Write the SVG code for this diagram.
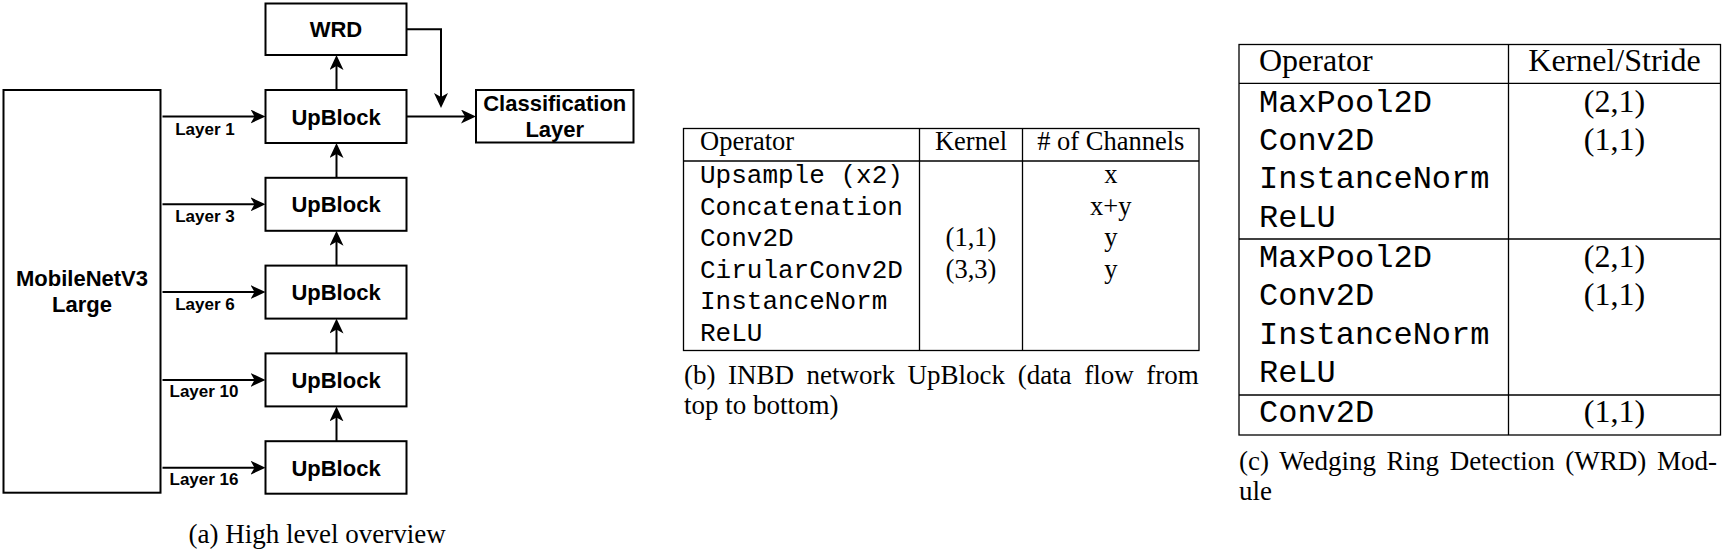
<svg xmlns="http://www.w3.org/2000/svg" width="1724" height="552" viewBox="0 0 1724 552">
<style>
.box{fill:#fff;stroke:#000;stroke-width:2}
.conn{fill:none;stroke:#000;stroke-width:2}
.nl{font-family:"Liberation Sans",Arial,sans-serif;font-weight:bold;font-size:22px;fill:#000;text-anchor:middle}
.ll{font-family:"Liberation Sans",Arial,sans-serif;font-weight:bold;font-size:17px;fill:#000;text-anchor:middle}
.tl{fill:none;stroke:#000;stroke-width:1.3}
.serb{font-family:"Liberation Serif","Times New Roman",serif;font-size:26.5px;fill:#000}
.monob{font-family:"Liberation Mono","Courier New",monospace;font-size:26px;fill:#000}
.serc{font-family:"Liberation Serif","Times New Roman",serif;font-size:32px;fill:#000}
.monoc{font-family:"Liberation Mono","Courier New",monospace;font-size:32px;fill:#000}
.cap{font-family:"Liberation Serif","Times New Roman",serif;font-size:27px;fill:#000}
.mid{text-anchor:middle}
</style>
<defs>
<marker id="arr" viewBox="0 0 15 14" refX="5" refY="7" markerWidth="15" markerHeight="14" markerUnits="userSpaceOnUse" orient="auto">
<path d="M15,7 L0,0 L4,7 L0,14 Z" fill="#000"/>
</marker>
</defs>
<rect width="1724" height="552" fill="#fff"/>

<g id="connectors">
<line class="conn" x1="162.5" y1="116.5" x2="255.5" y2="116.5" marker-end="url(#arr)"/>
<line class="conn" x1="162.5" y1="204.3" x2="255.5" y2="204.3" marker-end="url(#arr)"/>
<line class="conn" x1="162.5" y1="292.1" x2="255.5" y2="292.1" marker-end="url(#arr)"/>
<line class="conn" x1="162.5" y1="379.9" x2="255.5" y2="379.9" marker-end="url(#arr)"/>
<line class="conn" x1="162.5" y1="467.7" x2="255.5" y2="467.7" marker-end="url(#arr)"/>
<line class="conn" x1="336.5" y1="441.2" x2="336.5" y2="416.4" marker-end="url(#arr)"/>
<line class="conn" x1="336.5" y1="353.4" x2="336.5" y2="328.6" marker-end="url(#arr)"/>
<line class="conn" x1="336.5" y1="265.6" x2="336.5" y2="240.8" marker-end="url(#arr)"/>
<line class="conn" x1="336.5" y1="177.8" x2="336.5" y2="153" marker-end="url(#arr)"/>
<line class="conn" x1="336.5" y1="90" x2="336.5" y2="65" marker-end="url(#arr)"/>
<line class="conn" x1="406.5" y1="116.5" x2="466" y2="116.5" marker-end="url(#arr)"/>
<path class="conn" d="M406.5,29.3 L441,29.3 L441,98" marker-end="url(#arr)"/>
<text class="ll" x="205" y="134.5">Layer 1</text>
<text class="ll" x="205" y="222">Layer 3</text>
<text class="ll" x="205" y="309.8">Layer 6</text>
<text class="ll" x="204" y="397">Layer 10</text>
<text class="ll" x="204" y="485">Layer 16</text>
</g>

<g id="mobilenet">
<rect class="box" x="3.5" y="90" width="157" height="402.7"/>
<text class="nl" x="82" y="286">MobileNetV3</text>
<text class="nl" x="82" y="312">Large</text>
</g>
<g id="wrd">
<rect class="box" x="265.5" y="3.5" width="141" height="51.5"/>
<text class="nl" x="336" y="37">WRD</text>
</g>
<g id="upblock1">
<rect class="box" x="265.5" y="90" width="141" height="53"/>
<text class="nl" x="336" y="124.5">UpBlock</text>
</g>
<g id="upblock2">
<rect class="box" x="265.5" y="177.8" width="141" height="53"/>
<text class="nl" x="336" y="212.3">UpBlock</text>
</g>
<g id="upblock3">
<rect class="box" x="265.5" y="265.6" width="141" height="53"/>
<text class="nl" x="336" y="300.1">UpBlock</text>
</g>
<g id="upblock4">
<rect class="box" x="265.5" y="353.4" width="141" height="53"/>
<text class="nl" x="336" y="387.9">UpBlock</text>
</g>
<g id="upblock5">
<rect class="box" x="265.5" y="441.2" width="141" height="52.5"/>
<text class="nl" x="336" y="475.7">UpBlock</text>
</g>
<g id="classification">
<rect class="box" x="476" y="90" width="157.5" height="52.5"/>
<text class="nl" x="554.75" y="110.5">Classification</text>
<text class="nl" x="554.75" y="136.5">Layer</text>
</g>
<text class="cap mid" x="317.2" y="543">(a) High level overview</text>

<g id="table-b">
<rect class="tl" x="683.5" y="128.5" width="515.5" height="222"/>
<line class="tl" x1="683.5" y1="161" x2="1199" y2="161"/>
<line class="tl" x1="919.5" y1="128.5" x2="919.5" y2="350.5"/>
<line class="tl" x1="1022.5" y1="128.5" x2="1022.5" y2="350.5"/>
<text class="serb" x="700" y="150">Operator</text>
<text class="serb mid" x="971" y="150">Kernel</text>
<text class="serb mid" x="1110.8" y="150">
# of Channels</text>
<text class="monob" x="700" y="183.3">Upsample (x2)</text>
<text class="monob" x="700" y="214.8">Concatenation</text>
<text class="monob" x="700" y="246.3">Conv2D</text>
<text class="monob" x="700" y="277.8">CirularConv2D</text>
<text class="monob" x="700" y="309.3">InstanceNorm</text>
<text class="monob" x="700" y="340.8">ReLU</text>
<text class="serb mid" x="971" y="246.3">(1,1)</text>
<text class="serb mid" x="971" y="277.8">(3,3)</text>
<text class="serb mid" x="1110.8" y="183.3">x</text>
<text class="serb mid" x="1110.8" y="214.8">x+y</text>
<text class="serb mid" x="1110.8" y="246.3">y</text>
<text class="serb mid" x="1110.8" y="277.8">y</text>
</g>
<text class="cap" x="684" y="384" word-spacing="5.8">(b) INBD network UpBlock (data flow from</text>
<text class="cap" x="684" y="414">top to bottom)</text>

<g id="table-c">
<rect class="tl" x="1239" y="44.5" width="481.5" height="390.5"/>
<line class="tl" x1="1239" y1="83.3" x2="1720.5" y2="83.3"/>
<line class="tl" x1="1239" y1="239" x2="1720.5" y2="239"/>
<line class="tl" x1="1239" y1="395" x2="1720.5" y2="395"/>
<line class="tl" x1="1508.5" y1="44.5" x2="1508.5" y2="435"/>
<text class="serc" x="1259" y="71">Operator</text>
<text class="serc mid" x="1614.5" y="71">Kernel/Stride</text>
<text class="monoc" x="1259" y="111.7">MaxPool2D</text>
<text class="monoc" x="1259" y="150">Conv2D</text>
<text class="monoc" x="1259" y="188.3">InstanceNorm</text>
<text class="monoc" x="1259" y="226.7">ReLU</text>
<text class="monoc" x="1259" y="266.7">MaxPool2D</text>
<text class="monoc" x="1259" y="305">Conv2D</text>
<text class="monoc" x="1259" y="343.5">InstanceNorm</text>
<text class="monoc" x="1259" y="382">ReLU</text>
<text class="monoc" x="1259" y="421.5">Conv2D</text>
<text class="serc mid" x="1614.5" y="111.7">(2,1)</text>
<text class="serc mid" x="1614.5" y="150">(1,1)</text>
<text class="serc mid" x="1614.5" y="266.7">(2,1)</text>
<text class="serc mid" x="1614.5" y="305">(1,1)</text>
<text class="serc mid" x="1614.5" y="421.5">(1,1)</text>
</g>
<text class="cap" x="1239" y="470" word-spacing="3.9">(c) Wedging Ring Detection (WRD) Mod-</text>
<text class="cap" x="1239" y="500">ule</text>
</svg>
